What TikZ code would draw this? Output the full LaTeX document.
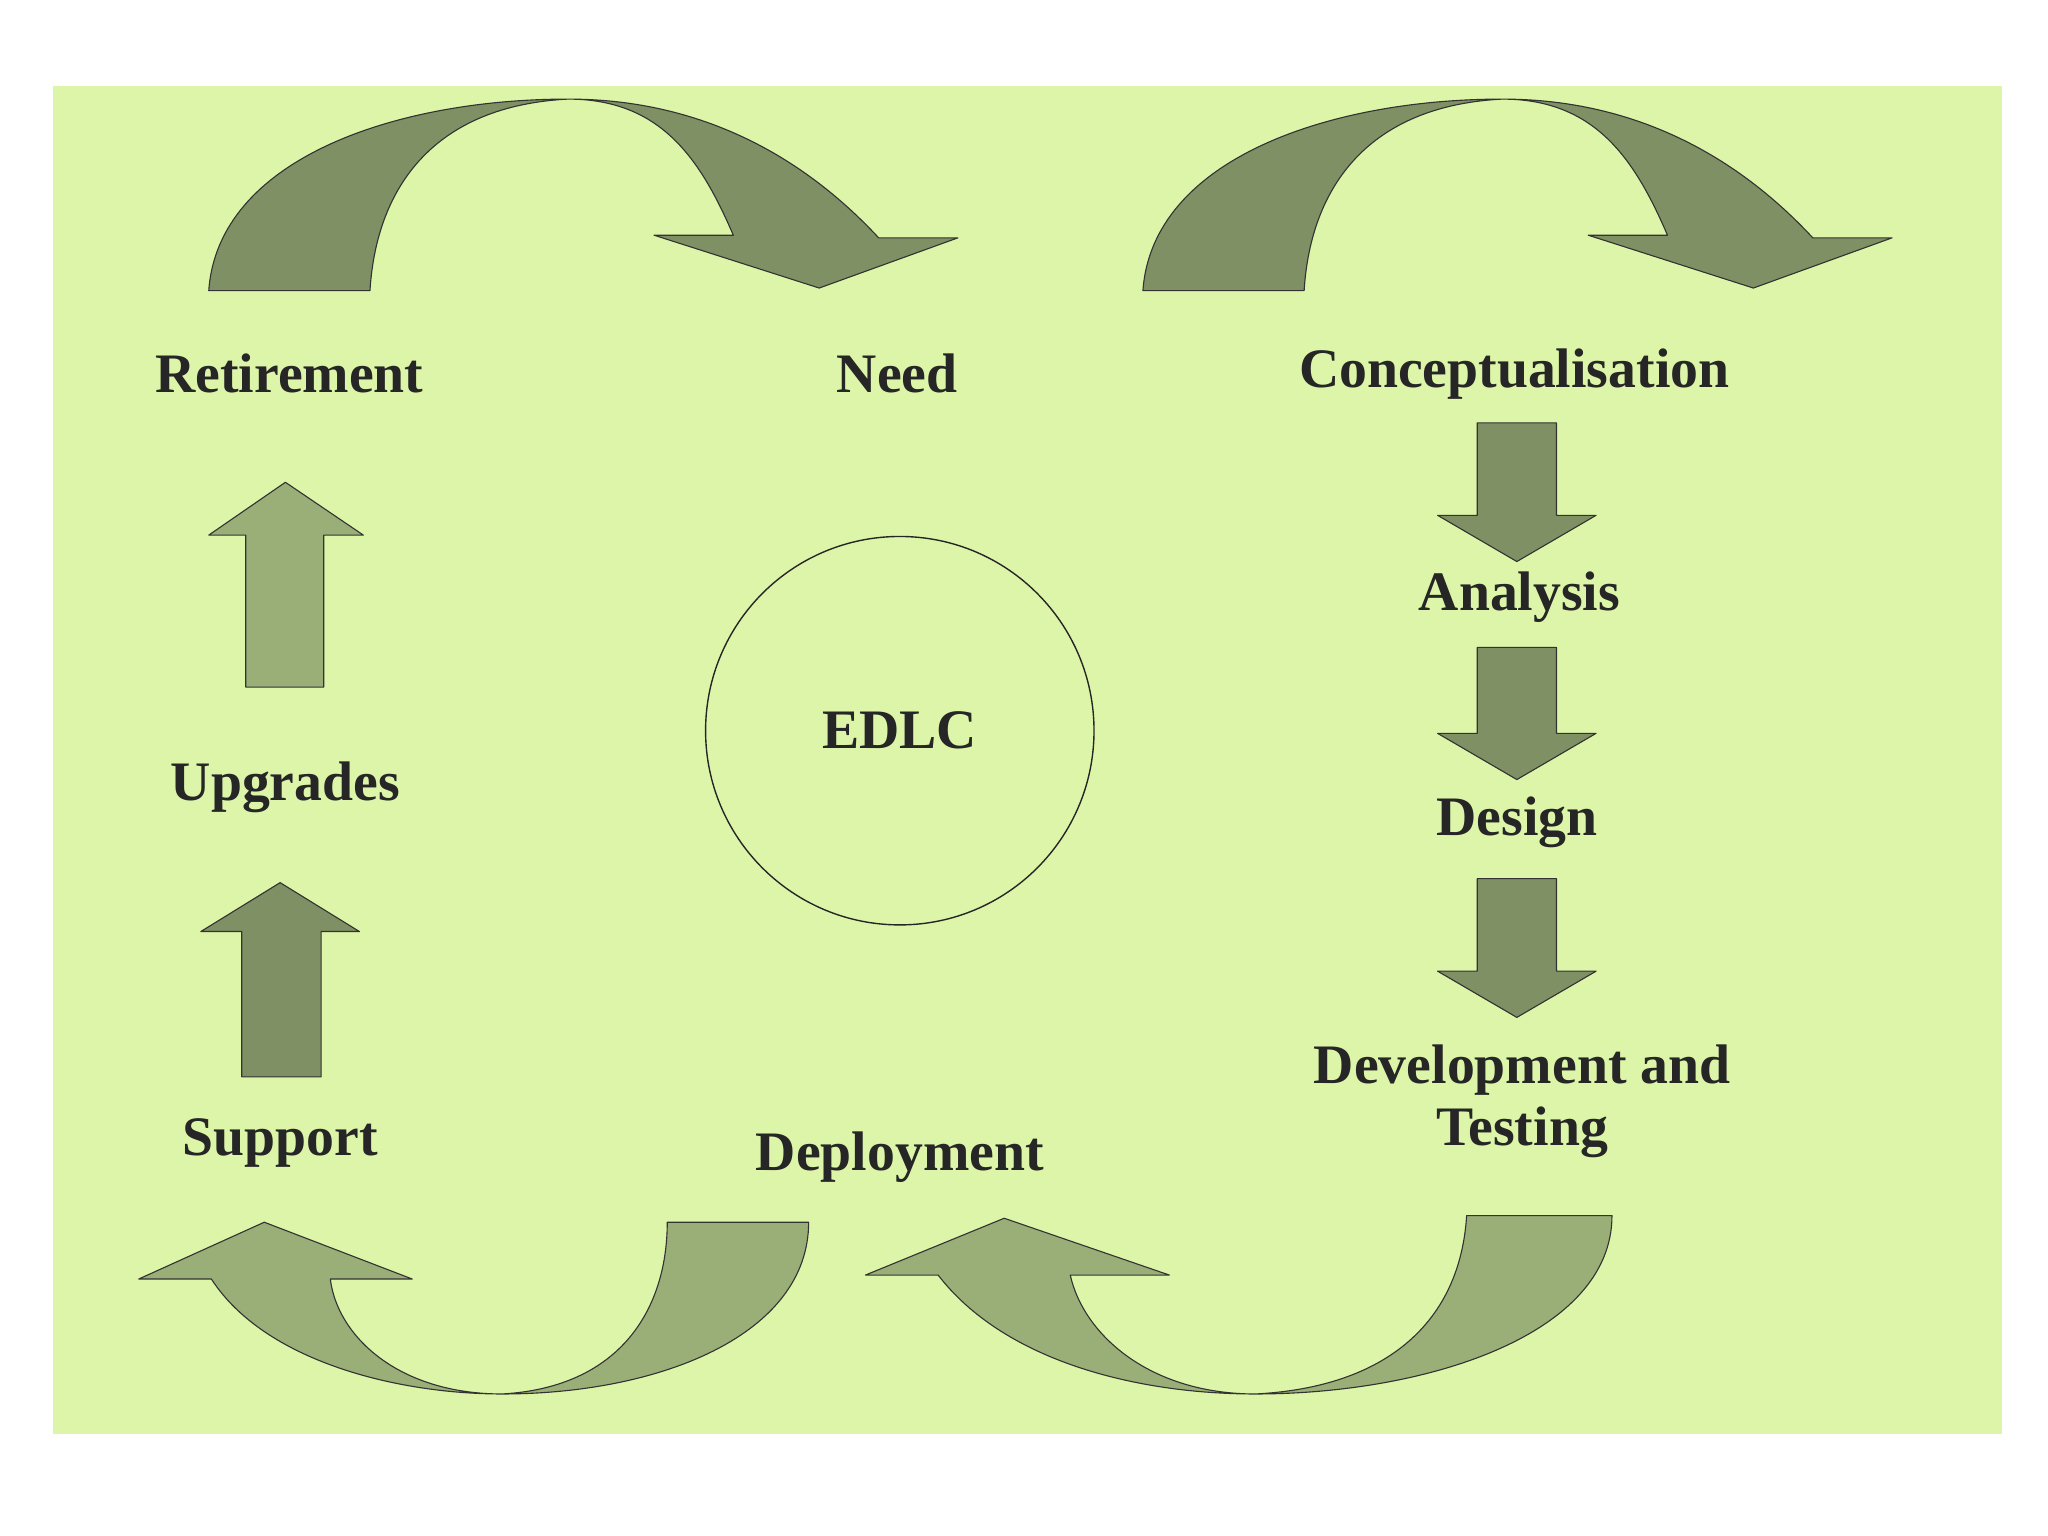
\documentclass[tikz,border=0pt]{standalone}
\usepackage{fontspec}
\setmainfont{Liberation Serif}
\begin{document}
\begin{tikzpicture}[x=0.05cm,y=-0.05cm,
  lbl/.style={font=\fontsize{60}{66}\selectfont\bfseries, text=black!85, align=center},
  darr/.style={fill=arrd, draw=black!80, line width=1.2pt, line join=round},
  larr/.style={fill=arrl, draw=black!80, line width=1.2pt, line join=round}]
\definecolor{bgc}{HTML}{DDF5A8}
\definecolor{arrd}{HTML}{7F9064}
\definecolor{arrl}{HTML}{9AAE78}
\useasboundingbox (0,0) rectangle (1550,1162);
\fill[white] (0,0) rectangle (1550,1162);
\fill[bgc] (40,65) rectangle (1515,1085);
% top arcs
\foreach \dx in {0,707}{
\begin{scope}[xshift=\dx*0.05cm]
\draw[darr] (158,220) .. controls (165,120) and (300,75) .. (430,75) .. controls (500,75) and (530,120) .. (555,178)
  -- (495,178) -- (620,218) -- (725,180) -- (665,180) .. controls (600,110) and (520,75) .. (430,75)
  .. controls (330,80) and (285,140) .. (280,220) -- cycle;
\end{scope}}
% bottom arcs
\draw[larr] (1220,920) .. controls (1220,1010) and (1080,1055) .. (950,1055) .. controls (870,1055) and (820,1010) .. (810,965)
  -- (885,965) -- (760,922) -- (655,965) -- (710,965) .. controls (760,1030) and (860,1055) .. (950,1055)
  .. controls (1050,1050) and (1105,1000) .. (1110,920) -- cycle;
\draw[larr] (612,925) .. controls (612,1010) and (500,1055) .. (380,1055) .. controls (300,1055) and (255,1010) .. (250,968)
  -- (312,968) -- (200,925) -- (105,968) -- (160,968) .. controls (200,1030) and (300,1055) .. (380,1055)
  .. controls (470,1050) and (505,990) .. (505,925) -- cycle;
% down arrows
\foreach \a/\b/\t in {320/390/425, 490/555/590, 665/735/770}{
\draw[darr] (1118,\a) -- (1178,\a) -- (1178,\b) -- (1208,\b) -- (1148,\t) -- (1088,\b) -- (1118,\b) -- cycle;}
% up arrows
\draw[larr] (186,520) -- (245,520) -- (245,405) -- (275,405) -- (216,365) -- (158,405) -- (186,405) -- cycle;
\draw[darr] (183,815) -- (243,815) -- (243,705) -- (272,705) -- (212,668) -- (152,705) -- (183,705) -- cycle;
\node[circle, draw=black!85, line width=1.5pt, minimum size=14.7cm, lbl] (edlc) at (681,553) {EDLC};
\node[lbl] (ret) at (219,283) {Retirement};
\node[lbl] (need) at (679,283) {Need};
\node[lbl] (con) at (1146,283) {Conceptualisation};
\node[lbl] (ana) at (1150,452) {Analysis};
\node[lbl] (des) at (1148,622) {Design};
\node[lbl] (dev1) at (1152,810) {Development and};
\node[lbl] (dev2) at (1152,857) {Testing};
\node[lbl] (sup) at (212,865) {Support};
\node[lbl] (dep) at (681,876) {Deployment};
\node[lbl] (upg) at (216,596) {Upgrades};
\end{tikzpicture}
\end{document}
